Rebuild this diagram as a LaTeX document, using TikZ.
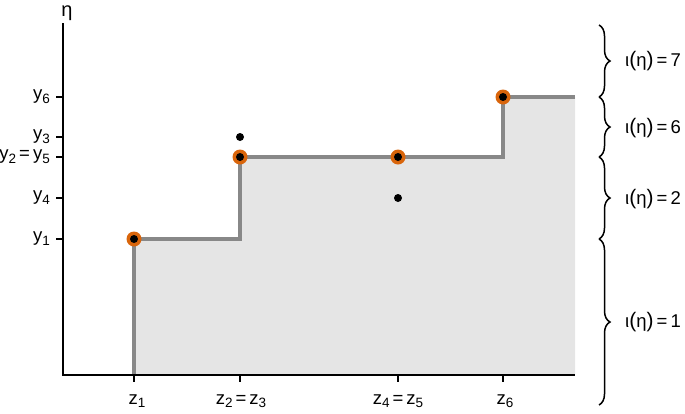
\documentclass[tikz,border=0pt]{standalone}
\usepackage{fontspec}
\setmainfont{Liberation Sans}
\usetikzlibrary{decorations.pathreplacing}
\newcommand{\sbs}[1]{\raisebox{-0.35ex}{\fontsize{13.5}{14}\selectfont #1}}
\newcommand{\bigpar}[1]{{\fontsize{21}{22}\selectfont #1}}
\definecolor{stepgray}{HTML}{888888}
\definecolor{fillgray}{HTML}{E5E5E5}
\definecolor{ptorange}{HTML}{D9650B}
\tikzset{
  lbl/.style={font=\fontsize{18.5}{20}\selectfont, inner sep=0pt},
  axisline/.style={line width=1.7pt, black},
  tick/.style={line width=1.7pt, black},
  stepline/.style={line width=3.3pt, stepgray},
  ringpt/.style={circle, fill=ptorange, minimum size=15pt, inner sep=0pt},
  dotpt/.style={circle, fill=black, minimum size=8pt, inner sep=0pt},
  bracestyle/.style={decorate, decoration={brace, amplitude=11pt}, line width=1.5pt},
}
\begin{document}
\begin{tikzpicture}[x=1pt, y=-1pt]
\useasboundingbox (0,0) rectangle (685,413);
% coordinates
\coordinate (o) at (63,375);
\coordinate (ytop) at (63,23);
\coordinate (xend) at (575,375);
% fill
\fill[fillgray] (134,375) -- (134,239) -- (240,239) -- (240,157) -- (503,157) -- (503,97) -- (575,97) -- (575,375) -- cycle;
% step
\draw[stepline] (134,375) -- (134,239) -- (240,239) -- (240,157) -- (503,157) -- (503,97) -- (575,97);
% axes
\draw[axisline] (ytop) -- (o) -- (xend);
% y ticks
\foreach \yy in {97,137,157,198,239} {
  \draw[tick] (56,\yy) -- (63,\yy);
}
\node[lbl, anchor=east] (ly6) at (50,97) {y\sbs{6}};
\node[lbl, anchor=east] (ly3) at (50,137) {y\sbs{3}};
\node[lbl, anchor=east] (ly25) at (50,157) {y\sbs{2}\,=\,y\sbs{5}};
\node[lbl, anchor=east] (ly4) at (50,198) {y\sbs{4}};
\node[lbl, anchor=east] (ly1) at (50,239) {y\sbs{1}};
\node[lbl] (eta) at (67,13) {\fontsize{20}{22}\selectfont η};
% x ticks
\foreach \xx in {134,240,398,503} {
  \draw[tick] (\xx,375) -- (\xx,382);
}
\node[lbl] (lz1) at (137,401) {z\sbs{1}};
\node[lbl] (lz23) at (241,401) {z\sbs{2}\,=\,z\sbs{3}};
\node[lbl] (lz45) at (398,401) {z\sbs{4}\,=\,z\sbs{5}};
\node[lbl] (lz6) at (505,401) {z\sbs{6}};
% points
\node[ringpt] (p1) at (134,239) {};
\node[ringpt] (p2) at (240,157) {};
\node[ringpt] (p5) at (398,157) {};
\node[ringpt] (p6) at (503,97) {};
\foreach \n in {p1,p2,p5,p6} { \node[dotpt] at (\n) {}; }
\node[dotpt] (p3) at (240,137) {};
\node[dotpt] (p4) at (398,198) {};
% braces
\coordinate (b0) at (599,25);
\coordinate (b1) at (599,97);
\coordinate (b2) at (599,157);
\coordinate (b3) at (599,239);
\coordinate (b4) at (599,405);
\draw[bracestyle] (b0) -- (b1);
\draw[bracestyle] (b1) -- (b2);
\draw[bracestyle] (b2) -- (b3);
\draw[bracestyle] (b3) -- (b4);
\node[lbl, anchor=west] (i7) at (625,61) {ι\bigpar{(}η\bigpar{)}\,=\,7};
\node[lbl, anchor=west] (i6) at (625,128) {ι\bigpar{(}η\bigpar{)}\,=\,6};
\node[lbl, anchor=west] (i2) at (625,199) {ι\bigpar{(}η\bigpar{)}\,=\,2};
\node[lbl, anchor=west] (i1) at (625,322) {ι\bigpar{(}η\bigpar{)}\,=\,1};
\end{tikzpicture}
\end{document}
